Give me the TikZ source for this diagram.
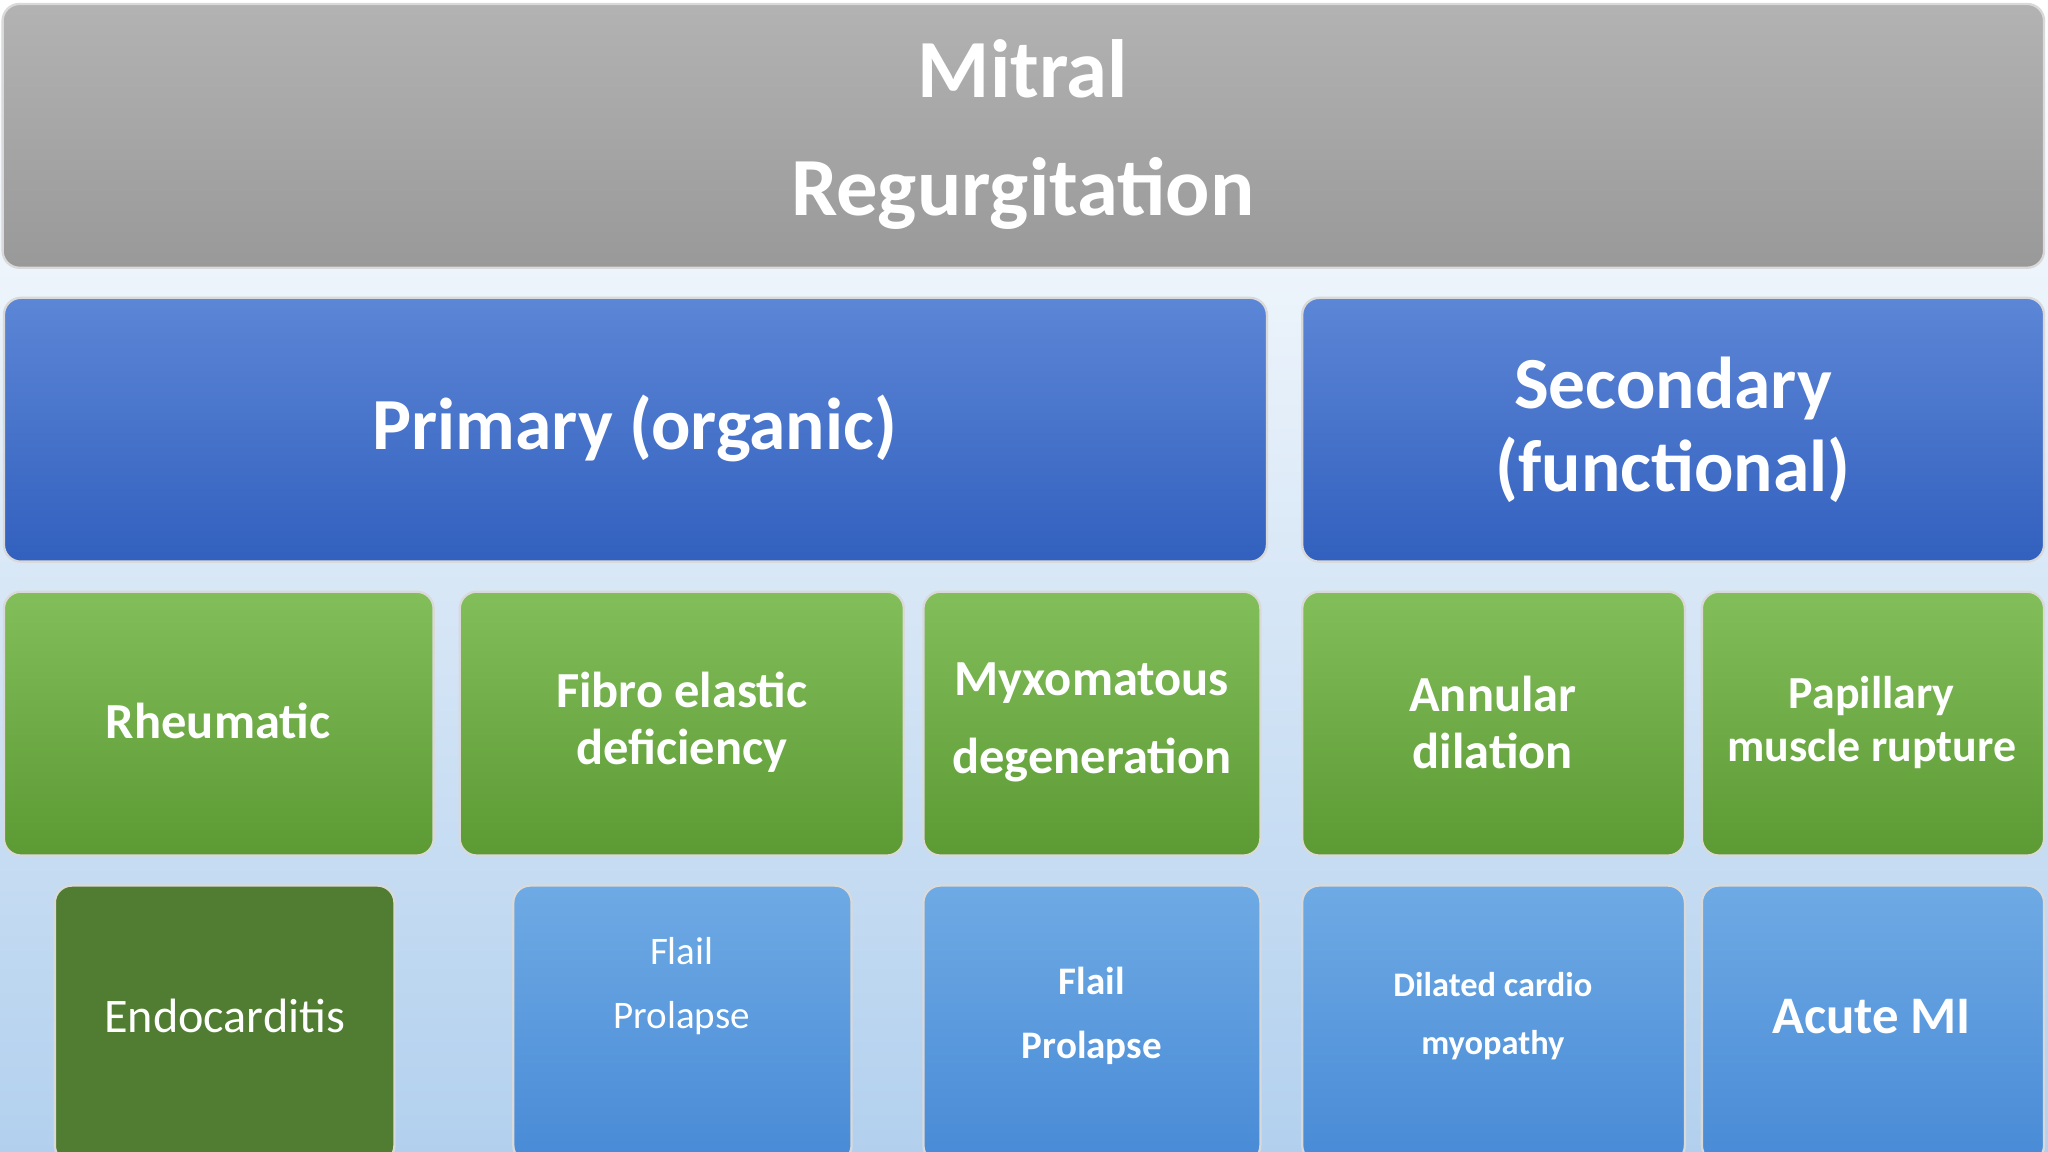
\documentclass[tikz,border=0pt]{standalone}
\usepackage{fontspec}
\setmainfont{Carlito}
\begin{document}
\begin{tikzpicture}[x=0.1mm,y=-0.1mm,
 bx/.style={rounded corners=1.3mm, draw=white!70!gray, line width=0.5pt, text=white, align=center, inner sep=0pt},
 gray/.style={bx, top color=gray!60, bottom color=gray!80},
 blue/.style={bx, top color={rgb,255:red,92;green,134;blue,214}, bottom color={rgb,255:red,50;green,96;blue,190}},
 green/.style={bx, top color={rgb,255:red,130;green,190;blue,90}, bottom color={rgb,255:red,92;green,154;blue,52}},
 dgreen/.style={bx, fill={rgb,255:red,80;green,125;blue,50}},
 lblue/.style={bx, top color={rgb,255:red,110;green,170;blue,228}, bottom color={rgb,255:red,72;green,138;blue,214}},
 gfont/.style={font=\fontsize{11pt}{12.5pt}\selectfont\bfseries}
]
\shade[top color=white, bottom color={rgb,255:red,178;green,208;blue,238}] (0,0) rectangle (1568,882);
\useasboundingbox (0,0) rectangle (1568,882);
\newcommand\bxx[7]{\path[#6] (#2,#3) rectangle (#4,#5); \node[#6, draw=none, fill=none, shade=none, path only] (#1) at ({(#2+#4)/2},{(#3+#5)/2}) {#7};}
\path[gray] (2,3) rectangle (1565,205);
\node[text=white, align=center, font=\fontsize{18pt}{25.6pt}\selectfont\bfseries] (t) at (783,103) {Mitral\\Regurgitation};
\path[blue] (3,228) rectangle (970,430);
\node[text=white, font=\fontsize{16pt}{18pt}\selectfont\bfseries] (p) at (486,328) {Primary (organic)};
\path[blue] (997,228) rectangle (1565,430);
\node[text=white, align=center, font=\fontsize{16pt}{18pt}\selectfont\bfseries] (s) at (1281,329) {Secondary\\(functional)};
\path[green] (3,453) rectangle (332,655);
\node[text=white, gfont] (r) at (167,552) {Rheumatic};
\path[green] (352,453) rectangle (692,655);
\node[text=white, gfont, align=center] (f) at (522,553) {Fibro elastic\\deficiency};
\path[green] (707,453) rectangle (965,655);
\node[text=white, align=center, font=\fontsize{11pt}{17pt}\selectfont\bfseries] (m) at (836,553) {Myxomatous\\degeneration};
\path[green] (997,453) rectangle (1290,655);
\node[text=white, gfont, align=center] (a) at (1143,553) {Annular\\dilation};
\path[green] (1303,453) rectangle (1565,655);
\node[text=white, align=center, font=\fontsize{10pt}{11.5pt}\selectfont\bfseries] (pm) at (1433,553) {Papillary\\muscle rupture};
\path[dgreen] (42,678) rectangle (302,890);
\node[text=white, font=\fontsize{10.5pt}{12pt}\selectfont] (e) at (172,778) {Endocarditis};
\path[lblue] (393,678) rectangle (652,890);
\node[text=white, align=center, font=\fontsize{8.5pt}{14pt}\selectfont] (fl1) at (522,755) {Flail\\Prolapse};
\path[lblue] (707,678) rectangle (965,890);
\node[text=white, align=center, font=\fontsize{8.5pt}{14pt}\selectfont\bfseries] (fl2) at (836,778) {Flail\\Prolapse};
\path[lblue] (997,678) rectangle (1290,890);
\node[text=white, align=center, font=\fontsize{7.5pt}{12.8pt}\selectfont\bfseries] (d) at (1143,778) {Dilated cardio\\myopathy};
\path[lblue] (1303,678) rectangle (1565,890);
\node[text=white, font=\fontsize{11.5pt}{13pt}\selectfont\bfseries] (mi) at (1433,778) {Acute MI};
\end{tikzpicture}
\end{document}
